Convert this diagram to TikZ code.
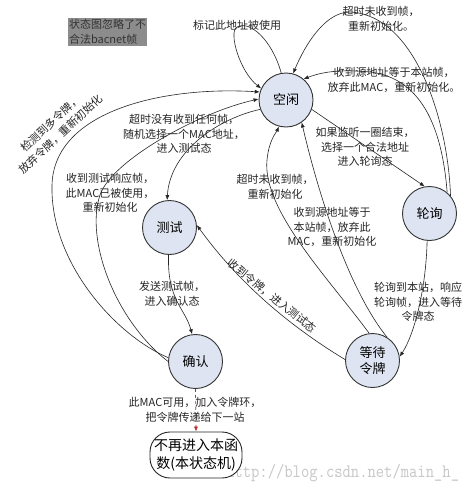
\documentclass[tikz,border=0pt]{standalone}
\usepackage{fontspec}
\setmainfont{Noto Sans CJK SC}
\usetikzlibrary{arrows.meta}
\definecolor{stfill}{RGB}{222,228,242}
\definecolor{notegray}{RGB}{140,140,140}
\definecolor{dashred}{RGB}{190,40,40}
\tikzset{
  state/.style={circle, draw=black!80, line width=0.9pt, fill=stfill, minimum size=54pt, inner sep=0pt, font=\fontsize{13}{15.5}\selectfont, align=center},
  lbl/.style={font=\fontsize{11}{14.5}\selectfont, align=center, inner sep=0pt, text=black!85},
  conn/.style={draw=black!85, line width=0.6pt, -{Latex[length=5pt,width=4pt]}},
  reddash/.style={draw=dashred, line width=0.7pt, dashed, -{Latex[length=5pt,width=4pt]}},
}
\begin{document}
\begin{tikzpicture}[x=1pt,y=-1pt]
\useasboundingbox[fill=white] (0,0) rectangle (474,482);

% watermark (under the end box)
\node[anchor=base west, text=black!22, font=\ttfamily\fontsize{19}{19}\selectfont, inner sep=0pt] (wm) at (226,477) {\scalebox{0.85}[1]{http://blog.csdn.net/main\_h\_}};

% note
\node[fill=notegray, text=black!80, minimum width=79pt, minimum height=28pt, align=left, inner sep=1pt, font=\fontsize{11}{15}\selectfont] (note) at (107.5,32) {状态图忽略了不\\合法bacnet帧};

% states
\node[state] (idle) at (286,100) {空闲};
\node[state] (test) at (169.5,227.5) {测试};
\node[state] (poll) at (429.5,213.5) {轮询};
\node[state] (conf) at (195.5,361.5) {确认};
\node[state] (wait) at (372.5,360.5) {等待\\令牌};
\node[draw=black!85, line width=0.9pt, fill=white, rounded corners=20pt, minimum width=92pt, minimum height=46pt, inner sep=2pt, align=center, font=\fontsize{14}{18}\selectfont] (done) at (196,455) {不再进入本函\\数(本状态机)};

% connectors
\draw[conn] (idle.100) .. controls (272,40) and (250,20) .. (237,27) .. controls (228,32) and (240,72) .. (idle.155);
\draw[conn] (poll.40) .. controls (448,120) and (415,15) .. (350,12) .. controls (325,12) and (305,45) .. (idle.75);
\draw[conn] (poll.50) .. controls (442,125) and (420,78) .. (370,72) .. controls (340,69) and (322,72) .. (idle.50);
\draw[conn] (idle.-20) -- (poll.100);
\draw[conn] (idle.200) .. controls (220,118) and (170,150) .. (test.95);
\draw[conn] (conf.172) .. controls (115,335) and (50,262) .. (52,185) .. controls (54,110) and (165,86) .. (idle.163);
\draw[conn] (conf.180) .. controls (115,320) and (85,240) .. (100,195) .. controls (112,160) and (200,112) .. (idle.178);
\draw[conn] (test.268) .. controls (167,300) and (185,308) .. (conf.97);
\draw[conn] (wait.178) .. controls (288,325) and (238,282) .. (test.5);
\draw[conn] (poll.265) .. controls (426,290) and (414,335) .. (wait.8);
\draw[conn] (wait.97) .. controls (330,280) and (262,210) .. (267,160) .. controls (269,140) and (276,133) .. (idle.255);
\draw[conn] (wait.58) .. controls (345,285) and (315,180) .. (idle.-55);
\draw[reddash] (conf.south) -- (done.north);

% labels
\node[lbl] (l1) at (237,25) {标记此地址被使用};
\node[lbl] (l2) at (381,19) {超时未收到帧，\\重新初始化。};
\node[lbl] (l3) at (394,80) {收到源地址等于本站帧，\\放弃此MAC，重新初始化。};
\node[lbl] (l4) at (184,134) {超时没有收到任何帧，\\随机选择一个MAC地址，\\进入测试态};
\node[lbl, rotate=43] (l5) at (56,129) {检测到多令牌，\\放弃令牌，重新初始化};
\node[lbl] (l6) at (110,193) {收到测试响应帧，\\此MAC已被使用，\\重新初始化};
\node[lbl] (l7) at (365,147) {如果监听一圈结束，\\选择一个合法地址\\进入轮询态};
\node[lbl] (l8) at (275,187) {超时未收到帧，\\重新初始化};
\node[lbl] (l9) at (332,227) {收到源地址等于\\本站帧，放弃此\\MAC，重新初始化};
\node[lbl] (l10) at (418,302) {轮询到本站，响应\\轮询帧，进入等待\\令牌态};
\node[lbl] (l11) at (172,294) {发送测试帧，\\进入确认态};
\node[lbl, rotate=-39] (l12) at (272,296) {收到令牌，进入测试态};
\node[lbl] (l13) at (195,410) {此MAC可用，加入令牌环，\\把令牌传递给下一站};
\end{tikzpicture}
\end{document}
